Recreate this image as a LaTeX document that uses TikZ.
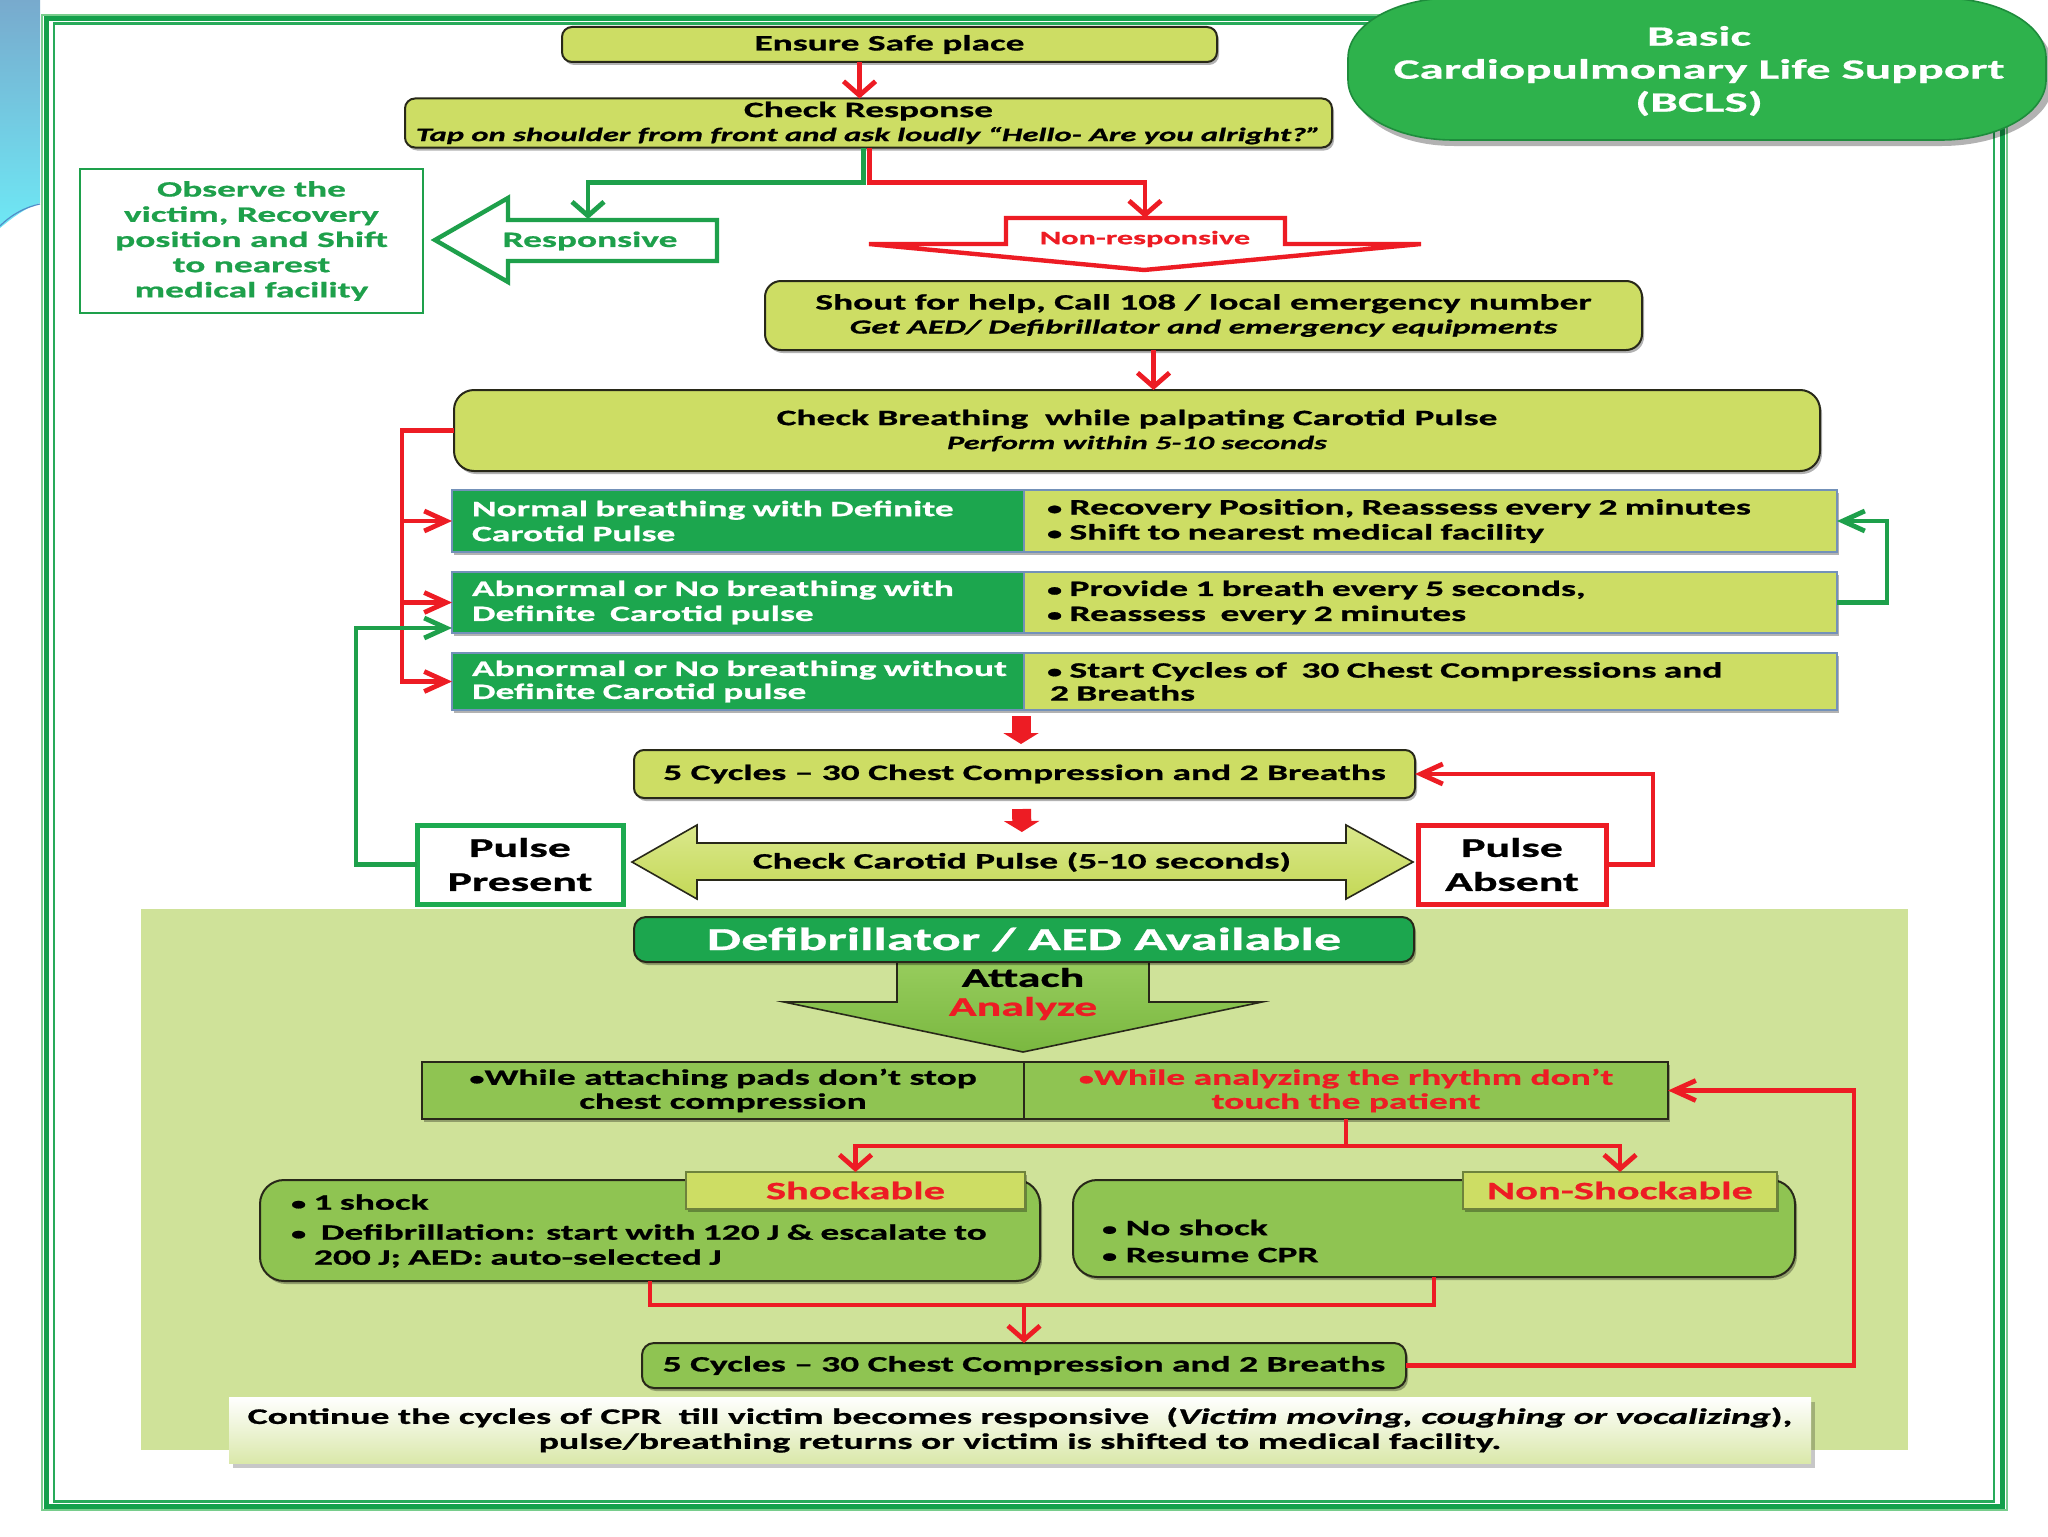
\documentclass[tikz,border=0pt]{standalone}
\usepackage{fontspec}
\newfontfamily\cf{Carlito}[FakeStretch=1.7,FakeBold=0.9]
\newfontfamily\tf{Carlito}[FakeStretch=1.75,FakeBold=0.6]
\usetikzlibrary{arrows.meta,shadows,calc}
\newcommand\myfs[2]{\fontsize{#1}{#2}\selectfont}
\newcommand\bul{{\myfs{9}{9}•}}
\definecolor{ygreen}{RGB}{205,221,100}
\definecolor{dgreen}{RGB}{28,166,78}
\definecolor{mgreen}{RGB}{143,196,82}
\definecolor{lgreen}{RGB}{207,226,153}
\definecolor{cred}{RGB}{237,28,36}
\definecolor{cgreen}{RGB}{30,160,75}
\definecolor{pgreen}{RGB}{29,170,80}
\definecolor{tgreen}{RGB}{46,178,76}
\definecolor{tedge}{RGB}{30,140,60}
\definecolor{edge}{RGB}{40,40,25}
\definecolor{cellb}{RGB}{115,145,185}
\definecolor{labb}{RGB}{110,130,60}
\definecolor{fDark}{RGB}{20,160,75}
\definecolor{fLight}{RGB}{120,205,140}
\definecolor{fMid}{RGB}{40,170,90}
\definecolor{skyA}{RGB}{120,170,205}
\definecolor{skyB}{RGB}{110,232,245}
\definecolor{skyL}{RGB}{80,140,200}
\definecolor{carA}{RGB}{218,232,140}
\definecolor{carB}{RGB}{196,216,86}
\definecolor{attA}{RGB}{152,205,94}
\definecolor{attB}{RGB}{122,184,64}
\definecolor{noteB}{RGB}{218,232,170}
\tikzset{
  base/.style={inner sep=0pt, outer sep=0pt},
  sh/.style={drop shadow={shadow xshift=1pt, shadow yshift=-1.5pt, opacity=0.3, fill=black}},
  ybox/.style={base, sh, draw=edge, line width=1pt, fill=ygreen, rounded corners=5pt, align=center, font=\cf\bfseries\myfs{11}{12}},
  gbox/.style={base, sh, draw=edge, line width=1pt, fill=mgreen, align=center, font=\cf\bfseries\myfs{11}{12}},
  cellL/.style={base, sh, draw=cellb, line width=0.6pt, fill=dgreen, text=white, align=left, inner xsep=10pt, text width=266pt, minimum width=286pt, font=\cf\bfseries\myfs{11}{12.5}},
  cellR/.style={base, sh, draw=cellb, line width=0.6pt, fill=ygreen, align=left, inner xsep=11.5pt, text width=383.5pt, minimum width=406.5pt, font=\cf\bfseries\myfs{11}{12.5}},
  pulsebox/.style={base, fill=white, line width=2.5pt, align=center, font=\cf\bfseries\myfs{13.5}{17}},
  lab/.style={base, sh, draw=labb, line width=0.8pt, fill=ygreen, text=cred, font=\cf\bfseries\myfs{12.5}{13}, minimum height=18.5pt},
  redline/.style={draw=cred, line width=2.4pt},
  greenline/.style={draw=cgreen, line width=2.4pt},
  varr/.style={-{Straight Barb[length=7pt,width=16pt]}},
  harr/.style={-{Straight Barb[length=11pt,width=10pt]}},
  blockarr/.style={draw=cred, line width=9.5pt, -{Triangle[length=5.5pt,width=17.5pt]}},
}
\begin{document}
\begin{tikzpicture}[x=0.5pt,y=-0.5pt]
\useasboundingbox (0,0) rectangle (2048,1536);
\fill[white] (0,0) rectangle (2048,1536);
% slide background corner
\shade[top color=skyA, bottom color=skyB] (0,0) -- (40,0) -- (40,203) .. controls (25,208) and (12,218) .. (0,228) -- cycle;
\draw[white, line width=1.5pt] (0,234) .. controls (15,222) and (28,212) .. (40,208);
\draw[skyL, line width=0.6pt] (0,226) .. controls (12,214) and (26,207) .. (40,204);
% frame
\draw[fLight, line width=1pt] (41.5,15.5) rectangle (2007,1510);
\draw[fDark, line width=2.5pt] (46,19) rectangle (2002.5,1506);
\draw[fMid, line width=1.3pt] (54,23.5) rectangle (1994,1501.5);

% title
\fill[black, opacity=0.3] (1454,4) -- (1942,4) .. controls (2000,4) and (2052,31) .. (2052,64) -- (2052,86) .. controls (2052,119) and (2000,146) .. (1942,146) -- (1454,146) .. controls (1396,146) and (1354,119) .. (1354,86) -- (1354,64) .. controls (1354,31) and (1396,4) .. (1454,4) -- cycle;
\filldraw[fill=tgreen, draw=tedge, line width=0.8pt] (1453,-2) -- (1941,-2) .. controls (1999,-2) and (2046,25) .. (2046,58) -- (2046,80) .. controls (2046,113) and (1999,140) .. (1941,140) -- (1453,140) .. controls (1395,140) and (1348,113) .. (1348,80) -- (1348,58) .. controls (1348,25) and (1395,-2) .. (1453,-2) -- cycle;
\node[base, text=white, align=center, font=\tf\bfseries\myfs{14}{16.5}] (title) at (1699,71) {Basic\\Cardiopulmonary Life Support\\(BCLS)};

% top boxes
\node[ybox, minimum width=327.5pt, minimum height=17.5pt] (ensure) at (889.5,44.5) {Ensure Safe place};
\node[ybox, minimum width=463.5pt, minimum height=24.5pt] (check) at (868.5,123) {Check Response\\{\itshape\myfs{9.6}{12}Tap on shoulder from front and ask loudly “Hello- Are you alright?”}};
\node[base, draw=cgreen, line width=1.2pt, fill=white, minimum width=171.5pt, minimum height=72pt, align=center, text=cgreen, font=\cf\bfseries\myfs{11}{12.6}] (observe) at (251.5,241) {Observe the\\victim, Recovery\\position and Shift\\to nearest\\medical facility};

% responsive arrow
\draw[draw=cgreen, line width=2.2pt, fill=white] (717,220) -- (508,220) -- (508,198) -- (435,240) -- (508,282) -- (508,261) -- (717,261) -- cycle;
\node[base, text=cgreen, font=\cf\bfseries\myfs{11}{12}] (resp) at (590,241) {Responsive};
\coordinate (respTop) at (588,219);
% non-responsive arrow
\draw[draw=cred, line width=2.2pt, fill=white] (1006,218) -- (1285,218) -- (1285,244) -- (1421,244) -- (1144,270) -- (869,244) -- (1006,244) -- cycle;
\node[base, text=cred, font=\cf\bfseries\myfs{9.5}{11}] (nonresp) at (1145,239) {Non-responsive};
\coordinate (nrTop) at (1145,218);

\node[ybox, rounded corners=8pt, minimum width=438.5pt, minimum height=34.5pt] (shout) at (1203.5,315.5) {\myfs{11}{11.5}Shout for help, Call 108 / local emergency number\\{\itshape\myfs{10}{11.5}Get AED/ Defibrillator and emergency equipments}};
\node[ybox, rounded corners=10pt, minimum width=683pt, minimum height=40.5pt] (breath) at (1137,430.5) {\myfs{11}{11.5}Check Breathing\ \ while palpating Carotid Pulse\\{\itshape\myfs{9.5}{11.5}Perform within 5-10 seconds}};

% rows
\node[cellL, minimum height=31pt] (row1L) at (738,521) {Normal breathing with Definite\\Carotid Pulse};
\node[cellR, minimum height=31pt] (row1R) at (1430.5,521) {\bul\ Recovery Position, Reassess every 2 minutes\\\bul\ Shift to nearest medical facility};
\node[cellL, minimum height=30.5pt] (row2L) at (738,602.5) {Abnormal or No breathing with\\Definite\ \ Carotid pulse};
\node[cellR, minimum height=30.5pt] (row2R) at (1430.5,602.5) {\bul\ Provide 1 breath every 5 seconds,\\\bul\ Reassess\ \ every 2 minutes};
\node[cellL, minimum height=28.5pt, font=\cf\bfseries\myfs{11}{11.5}] (row3L) at (738,681.5) {\mbox{Abnormal or No breathing without}\\Definite Carotid pulse};
\node[cellR, minimum height=28.5pt, font=\cf\bfseries\myfs{11}{11.5}] (row3R) at (1430.5,681.5) {\bul\ Start Cycles of\ \ 30 Chest Compressions and\\\hspace*{1.5pt}2 Breaths};

\node[ybox, minimum width=390.5pt, minimum height=24pt] (cyc1) at (1024.5,774) {5 Cycles – 30 Chest Compression and 2 Breaths};

% carotid double arrow
\shadedraw[top color=carA, bottom color=carB, draw=edge, line width=0.8pt] (632,862) -- (697,825) -- (697,843) -- (1346,843) -- (1346,825) -- (1413,862) -- (1346,899) -- (1346,880) -- (697,880) -- (697,899) -- cycle;
\node[base, font=\cf\bfseries\myfs{11}{12}] (carotid) at (1022,862) {Check Carotid Pulse (5-10 seconds)};
\coordinate (carTop) at (1022,843);

\node[pulsebox, draw=pgreen, minimum width=103pt, minimum height=39.5pt] (pp) at (520,864.5) {Pulse\\Present};
\node[pulsebox, draw=cred, minimum width=94pt, minimum height=39.5pt] (pa) at (1512,864.5) {Pulse\\Absent};

% connectors, upper part
\draw[redline,varr] ([xshift=-15pt]ensure.south) -- ([xshift=-15pt]ensure.south |- check.north);
\draw[greenline,varr] ([xshift=-2.5pt]check.south) -- ++(0,35) -| (respTop);
\draw[redline,varr] ([xshift=0.5pt]check.south) -- ++(0,35) -| (nrTop);
\draw[redline,varr] ([xshift=-25pt]shout.south) -- ([xshift=-25pt]shout.south |- breath.north);
\draw[redline,harr] (breath.west) -- ++(-52,0) coordinate (brk) |- (row3L.west);
\draw[redline,harr] (brk |- row1L.west) -- (row1L.west);
\draw[redline,harr] (brk |- row2L.west) -- (row2L.west);
\draw[greenline,harr] (row2R.east) -- ++(50,0) |- (row1R.east);
\draw[greenline,harr] (pp.west) -- ++(-61,0) |- ([yshift=2.5pt]row2L.south west);
\draw[redline,harr] (pa.east) -- ++(47,0) |- (cyc1.east);
\draw[blockarr, shorten <=3pt, shorten >=3pt] ([xshift=-1.5pt]row3L.south east) -- ([xshift=-1.5pt]row3L.south east |- cyc1.north);
\draw[blockarr, shorten <=5.5pt, shorten >=5.5pt] ([xshift=-1.5pt]cyc1.south) -- (carTop);

% AED area
\fill[lgreen] (141,909) rectangle (1908,1450);
\shadedraw[top color=attA, bottom color=attB, draw=edge, line width=0.8pt] (897,958) -- (1149,958) -- (1149,1002) -- (1262,1002) -- (1023,1052) -- (784,1002) -- (897,1002) -- cycle;
\node[base, align=center, font=\cf\bfseries\myfs{13.5}{14.5}] (attach) at (1023,994) {Attach\\\textcolor{cred}{Analyze}};
\node[base, sh, draw=edge, line width=1pt, fill=dgreen, rounded corners=6pt, text=white, font=\cf\bfseries\myfs{16}{17}, minimum width=390pt, minimum height=22.5pt] (aed) at (1024,939.5) {Defibrillator / AED Available};

\node[gbox, minimum width=301pt, minimum height=28.5pt] (pads) at (723,1090.5) {\bul While attaching pads don’t stop\\chest compression};
\node[gbox, text=cred, minimum width=322pt, minimum height=28.5pt] (rhythm) at (1346,1090.5) {\bul While analyzing the rhythm don’t\\touch the patient};

\node[base, sh, draw=edge, line width=1pt, fill=mgreen, rounded corners=12pt, minimum width=390pt, minimum height=50.5pt] (shock) at (650,1230.5) {};
\node[base, anchor=west, align=left, text width=380pt, font=\cf\bfseries\myfs{11}{12.5}] (shockT) at (291,1231) {\bul\ 1 shock\\[2.5pt]\bul\ \ Defibrillation: start with 120 J \& escalate to\\\hspace*{11.5pt}200 J; AED: auto-selected J};
\node[lab, minimum width=169.5pt] (shockL) at (855.5,1190.5) {Shockable};

\node[base, sh, draw=edge, line width=1pt, fill=mgreen, rounded corners=12pt, minimum width=361pt, minimum height=48.5pt] (nonshock) at (1434,1228.5) {};
\node[base, anchor=west, align=left, font=\cf\bfseries\myfs{11}{13.5}] (nonshockT) at (1102,1241) {\bul\ No shock\\\bul\ Resume CPR};
\node[lab, minimum width=157pt] (nonshockL) at (1620,1190.5) {Non-Shockable};

\node[gbox, rounded corners=6pt, minimum width=382pt, minimum height=22.5pt] (cyc2) at (1024,1365.5) {5 Cycles – 30 Chest Compression and 2 Breaths};

\fill[black, opacity=0.22] (233,1402) rectangle (1815,1468);
\node[base, top color=white, bottom color=noteB, minimum width=791pt, minimum height=33pt, align=center, font=\cf\bfseries\myfs{11.1}{12.5}] (note) at (1020,1430) {Continue the cycles of CPR\ \ till victim becomes responsive\ \ (\textit{Victim moving, coughing or vocalizing}),\\pulse/breathing returns or victim is shifted to medical facility.};

% connectors, lower part
\draw[redline] (rhythm.south) -- ++(0,27) coordinate (split);
\draw[redline,varr] (split) -| (shockL.north);
\draw[redline,varr] (split) -| (nonshockL.north);
\draw[redline] (shock.south) -- ++(0,24) coordinate (mL) -| (nonshock.south);
\draw[redline,varr] (mL -| cyc2.north) -- (cyc2.north);
\draw[redline,harr] (cyc2.east) -- ++(448,0) |- (rhythm.east);
\end{tikzpicture}
\end{document}
